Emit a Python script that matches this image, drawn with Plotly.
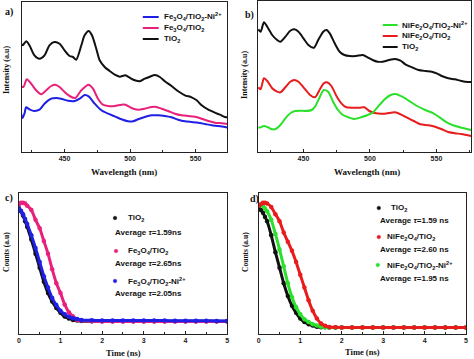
import plotly.graph_objects as go

W, H = 474, 359

# ---------------- Panel a data (wavelength nm, intensity a.u.) ----------------
wl_a_tio2 = [416.8, 418.1, 420.7, 423.2, 427.0, 430.9, 434.7, 438.5, 442.3, 446.2, 450.0, 453.8, 456.4, 458.9,
             462.8, 465.3, 468.4, 470.9, 474.2, 476.8, 480.6, 484.4, 488.3, 492.1, 496.4, 499.7, 503.6, 507.4,
             511.2, 515.1, 518.9, 522.7, 526.5, 531.6, 536.7, 541.8, 546.9, 550.8, 554.6, 559.7, 564.8, 568.6,
             572.4, 575.8]
int_a_tio2 = [108.3, 106.7, 110.7, 106.7, 96.7, 93.3, 96.7, 106.7, 110.0, 108.3, 101.7, 96.0, 95.0, 92.3,
              106.7, 116.7, 121.0, 116.7, 103.3, 91.7, 85.0, 81.0, 77.3, 75.3, 76.7, 74.3, 71.7, 70.7,
              73.3, 75.3, 77.0, 75.0, 70.7, 66.0, 60.7, 56.7, 54.7, 51.7, 46.7, 42.3, 39.3, 37.3,
              35.0, 34.3]

wl_a_fe = [416.8, 418.6, 421.2, 424.5, 428.3, 432.1, 436.0, 439.8, 442.9, 446.2, 450.0, 453.8, 458.2, 462.8,
           468.4, 471.7, 475.5, 479.3, 483.2, 488.3, 493.4, 496.4, 501.0, 506.1, 511.2, 516.3, 519.4, 524.0,
           529.1, 534.2, 539.3, 544.4, 549.5, 554.6, 559.7, 564.8, 569.9, 575.8]
int_a_fe = [66.0, 65.0, 72.7, 68.3, 61.7, 57.7, 61.7, 66.0, 67.3, 65.0, 60.0, 56.0, 54.0, 61.7,
            67.3, 63.3, 53.3, 47.3, 46.0, 46.0, 47.3, 47.3, 44.0, 42.3, 43.3, 45.0, 45.3, 43.3,
            41.0, 38.3, 36.7, 36.0, 35.3, 33.3, 31.0, 29.3, 28.7, 27.7]

wl_a_feni = [416.8, 417.9, 419.4, 420.7, 423.2, 427.0, 430.9, 434.7, 439.8, 443.6, 447.4, 452.6, 457.7, 461.5,
             465.3, 468.4, 473.0, 478.1, 483.2, 488.3, 493.4, 498.5, 502.3, 506.1, 511.2, 516.3, 521.4, 526.5,
             531.6, 536.7, 541.8, 546.9, 552.0, 557.1, 562.2, 567.3, 572.4, 575.8]
int_a_feni = [38.3, 34.0, 38.3, 44.7, 42.7, 41.0, 42.3, 48.3, 53.3, 54.0, 53.3, 51.3, 51.0, 53.3,
              57.0, 55.7, 48.3, 41.7, 38.3, 35.7, 32.7, 30.7, 30.7, 32.7, 35.0, 36.7, 36.7, 36.0,
              34.7, 32.3, 30.7, 30.0, 29.3, 28.0, 26.7, 26.0, 25.0, 24.0]

# ---------------- Panel b data ----------------
wl_b_tio2 = [416.1, 417.8, 420.3, 422.8, 426.5, 430.2, 432.7, 436.4, 440.1, 443.1, 446.3, 450.0, 453.7, 457.9,
             461.1, 464.9, 467.3, 469.8, 473.5, 477.2, 480.9, 484.7, 489.6, 494.6, 498.3, 502.0, 505.7, 509.4,
             514.4, 518.8, 523.0, 526.7, 531.7, 536.6, 541.6, 546.5, 550.2, 554.0, 558.9, 563.9, 568.8, 573.8,
             576.2]
int_b_tio2 = [122.7, 120.3, 129.7, 125.3, 117.0, 112.0, 110.3, 115.3, 121.3, 122.7, 120.3, 113.7, 107.0, 104.3,
              112.0, 120.3, 122.0, 118.7, 108.7, 100.3, 97.0, 96.0, 96.0, 97.0, 94.7, 92.0, 90.3, 90.3,
              92.0, 93.0, 91.3, 87.7, 84.7, 82.0, 81.0, 80.3, 78.7, 76.0, 73.7, 72.7, 71.0, 70.0,
              70.0]

wl_b_ni = [416.1, 417.8, 420.3, 422.8, 426.5, 430.2, 432.7, 436.4, 440.1, 443.1, 446.3, 450.0, 455.0, 458.7,
           462.4, 465.3, 467.8, 471.0, 474.8, 478.5, 482.2, 487.1, 492.1, 495.8, 499.5, 504.5, 509.4, 514.4,
           518.8, 523.0, 528.0, 532.9, 537.9, 544.1, 549.0, 554.0, 558.9, 563.9, 568.8, 576.2]
int_b_ni = [64.7, 62.7, 73.7, 71.0, 63.7, 60.3, 59.7, 64.7, 70.3, 72.0, 70.3, 64.7, 57.0, 54.7,
            62.7, 68.7, 69.7, 66.0, 56.0, 48.7, 44.7, 44.3, 44.3, 44.7, 41.0, 38.7, 38.3, 39.0,
            39.7, 37.7, 34.3, 31.0, 27.7, 26.7, 25.3, 22.7, 20.0, 18.7, 18.0, 16.0]

wl_b_nini = [416.1, 417.8, 420.3, 423.3, 426.5, 429.0, 432.7, 436.4, 440.1, 443.8, 447.5, 451.2, 456.2, 458.7,
             462.4, 465.3, 468.6, 472.3, 476.0, 479.7, 484.7, 488.4, 493.3, 498.3, 502.0, 505.7, 510.6, 515.6,
             519.3, 524.3, 529.2, 535.4, 541.6, 547.8, 552.7, 557.7, 562.6, 568.8, 576.2]
int_b_nini = [24.3, 24.7, 26.0, 24.7, 22.7, 23.0, 27.0, 33.7, 38.7, 41.0, 41.3, 41.0, 42.0, 45.3,
              55.3, 62.0, 60.3, 50.3, 42.0, 37.0, 34.3, 33.0, 34.7, 37.0, 39.3, 44.7, 52.0, 57.0,
              58.0, 55.3, 51.3, 46.0, 42.0, 38.7, 34.3, 29.7, 26.7, 24.3, 22.0]

# ---------------- Panel c data (time ns, normalized counts) ----------------
t_c = [0, 0.05, 0.1, 0.15, 0.2, 0.3, 0.4, 0.5, 0.6, 0.7, 0.8, 0.9, 1.0, 1.1, 1.2, 1.3, 1.4, 1.5,
       1.75, 2.0, 2.25, 2.5, 2.75, 3.0, 3.25, 3.5, 3.75, 4.0, 4.25, 4.5, 4.75, 5.0]
c_tio2 = [0.89, 0.87, 0.84, 0.80, 0.76, 0.67, 0.57, 0.47, 0.37, 0.29, 0.23, 0.185, 0.15, 0.125, 0.11, 0.10,
          0.095, 0.092, 0.09, 0.09, 0.09, 0.09, 0.09, 0.09, 0.09, 0.09, 0.09, 0.09, 0.09, 0.09, 0.09, 0.09]
c_fe = [0.915, 0.93, 0.93, 0.925, 0.91, 0.88, 0.81, 0.75, 0.66, 0.57, 0.46, 0.36, 0.29, 0.21, 0.155, 0.125,
        0.10, 0.095, 0.09, 0.088, 0.088, 0.088, 0.088, 0.088, 0.088, 0.088, 0.088, 0.088, 0.088, 0.088, 0.088, 0.088]
c_feni = [0.89, 0.875, 0.85, 0.815, 0.78, 0.70, 0.61, 0.51, 0.41, 0.33, 0.255, 0.205, 0.165, 0.14, 0.122, 0.112,
          0.106, 0.10, 0.097, 0.096, 0.096, 0.095, 0.095, 0.095, 0.095, 0.095, 0.094, 0.094, 0.094, 0.094, 0.093, 0.093]

# ---------------- Panel d data ----------------
t_d = [0, 0.05, 0.1, 0.15, 0.2, 0.3, 0.4, 0.5, 0.6, 0.7, 0.8, 0.9, 1.0, 1.1, 1.2, 1.3, 1.4, 1.5, 1.6, 1.7,
       1.85, 2.0, 2.25, 2.5, 2.75, 3.0, 3.25, 3.5, 3.75, 4.0, 4.25, 4.5, 4.75, 5.0]
d_tio2 = [0.90, 0.88, 0.86, 0.83, 0.80, 0.70, 0.58, 0.47, 0.36, 0.27, 0.20, 0.15, 0.11, 0.085, 0.07, 0.06,
          0.052, 0.048, 0.047, 0.046, 0.046, 0.046, 0.046, 0.046, 0.046, 0.046, 0.046, 0.046, 0.046, 0.046,
          0.046, 0.046, 0.046, 0.046]
d_nini = [0.91, 0.915, 0.91, 0.89, 0.87, 0.81, 0.71, 0.60, 0.48, 0.36, 0.26, 0.19, 0.14, 0.105, 0.085, 0.07,
          0.06, 0.052, 0.048, 0.046, 0.046, 0.046, 0.046, 0.046, 0.046, 0.046, 0.046, 0.046, 0.046, 0.046,
          0.046, 0.046, 0.046, 0.046]
d_ni = [0.91, 0.92, 0.93, 0.93, 0.925, 0.90, 0.85, 0.80, 0.72, 0.655, 0.59, 0.51, 0.42, 0.33, 0.24, 0.165,
        0.11, 0.075, 0.058, 0.05, 0.047, 0.046, 0.046, 0.046, 0.046, 0.046, 0.046, 0.046, 0.046, 0.046,
        0.046, 0.046, 0.046, 0.046]

BLACK, PINK, BLUE = "#111111", "#e8207c", "#1f1fe6"
GREEN, RED = "#2be02b", "#e81c1c"

fig = go.Figure()

def spec(x, y, color, xa, ya):
    fig.add_trace(go.Scatter(x=x, y=y, mode="lines", xaxis=xa, yaxis=ya, showlegend=False,
                             line=dict(color=color, width=2, shape="spline", smoothing=0.7)))

def decay(x, y, color, xa, ya):
    fig.add_trace(go.Scatter(x=x, y=y, mode="lines+markers", xaxis=xa, yaxis=ya, showlegend=False,
                             line=dict(color=color, width=3, shape="spline", smoothing=0.5),
                             marker=dict(color=color, size=4.5, symbol="circle")))

spec(wl_a_tio2, int_a_tio2, BLACK, "x", "y")
spec(wl_a_fe, int_a_fe, PINK, "x", "y")
spec(wl_a_feni, int_a_feni, BLUE, "x", "y")

spec(wl_b_tio2, int_b_tio2, BLACK, "x2", "y2")
spec(wl_b_ni, int_b_ni, RED, "x2", "y2")
spec(wl_b_nini, int_b_nini, GREEN, "x2", "y2")

decay(t_c, c_tio2, BLACK, "x3", "y3")
decay(t_c, c_fe, PINK, "x3", "y3")
decay(t_c, c_feni, BLUE, "x3", "y3")

decay(t_d, d_tio2, BLACK, "x4", "y4")
decay(t_d, d_nini, GREEN, "x4", "y4")
decay(t_d, d_ni, RED, "x4", "y4")

def px(x):
    return x / W

def py(y):
    return 1 - y / H

tickfont = dict(family="Liberation Sans", size=7, color="#222", weight="bold")

def xax(dom, rng, dtick, tick0, minor_dtick, vals=None):
    d = dict(domain=dom, range=rng, showgrid=False, zeroline=False, showline=True, linecolor="#222",
             linewidth=1, mirror=True, ticks="inside", ticklen=3, tickcolor="#222", tickfont=tickfont,
             dtick=dtick, tick0=tick0, minor=dict(dtick=minor_dtick, ticks="inside", ticklen=2,
                                                  tickcolor="#222"), fixedrange=True)
    return d

def yax(dom, rng):
    return dict(domain=dom, range=rng, showgrid=False, zeroline=False, showline=True, linecolor="#222",
                linewidth=1, mirror=True, ticks="", showticklabels=False, fixedrange=True)

fig.update_layout(
    width=W, height=H, margin=dict(l=0, r=0, t=0, b=0), autosize=False,
    paper_bgcolor="white", plot_bgcolor="white",
    xaxis=xax([px(20), px(227)], [417.4, 574], 50, 450, 25),
    yaxis=yax([py(152), py(2)], [0, 150]),
    xaxis2=xax([px(258), px(473)], [415.7, 576], 50, 450, 25),
    yaxis2=yax([py(152), py(1)], [0, 151]),
    xaxis3=xax([px(17), px(227)], [0, 5], 1, 0, 0.5),
    yaxis3=yax([py(334), py(193)], [0, 1]),
    xaxis4=xax([px(259), px(468)], [0, 5], 1, 0, 0.5),
    yaxis4=yax([py(334), py(193)], [0, 1]),
)
fig.update_layout(xaxis2=dict(anchor="y2"), yaxis2=dict(anchor="x2"),
                  xaxis3=dict(anchor="y3"), yaxis3=dict(anchor="x3"),
                  xaxis4=dict(anchor="y4"), yaxis4=dict(anchor="x4"))

ann = []
shapes = []
SERIF = "Liberation Serif"
SANS = "Liberation Sans"

def text(x, y, s, size=8, family=SANS, color="#111", xanchor="left", angle=0, bold=True):
    ann.append(dict(x=px(x), y=py(y), xref="paper", yref="paper", text=s, showarrow=False,
                    xanchor=xanchor, yanchor="middle", textangle=angle,
                    font=dict(family=family, size=size, color=color, weight="bold" if bold else "normal")))

# panel labels
text(7, 12, "a)", 10, SERIF, xanchor="center")
text(250, 15, "b)", 10, SERIF, xanchor="center")
text(7, 198, "c)", 10, SERIF, xanchor="center")
text(255, 199, "d)", 10, SERIF, xanchor="center")

# axis titles
text(123, 172, "Wavelength (nm)", 9, SERIF, xanchor="center")
text(368, 172, "Wavelength (nm)", 9, SERIF, xanchor="center")
text(5, 70, "Intensity (a.u)", 8, SERIF, xanchor="center", angle=-90)
text(245, 75, "Intensity (a.u)", 8, SERIF, xanchor="center", angle=-90)
text(123, 353, "Time (ns)", 8.5, SERIF, xanchor="center")
text(364, 352, "Time (ns)", 8.5, SERIF, xanchor="center")
text(5, 252, "Counts (a.u)", 7.5, SERIF, xanchor="center", angle=-90)
text(246, 252, "Counts (a.u)", 7.5, SERIF, xanchor="center", angle=-90)

def legline(x0, x1, y, color):
    shapes.append(dict(type="line", xref="paper", yref="paper", x0=px(x0), x1=px(x1), y0=py(y), y1=py(y),
                       line=dict(color=color, width=2)))

# legend a
legline(142, 158, 17, BLUE)
legline(142, 158, 28, PINK)
legline(142, 158, 39, BLACK)
text(161, 17, "Fe<sub>3</sub>O<sub>4</sub>/TiO<sub>2</sub>-Ni<sup>2+</sup>", 8)
text(161, 28, "Fe<sub>3</sub>O<sub>4</sub>/TiO<sub>2</sub>", 8)
text(161, 39, "TiO<sub>2</sub>", 8)

# legend b
legline(384, 399, 25, GREEN)
legline(384, 399, 36, RED)
legline(384, 399, 47, BLACK)
text(401, 25, "NiFe<sub>2</sub>O<sub>4</sub>/TiO<sub>2</sub>-Ni<sup>2+</sup>", 8)
text(401, 36, "NiFe<sub>2</sub>O<sub>4</sub>/TiO<sub>2</sub>", 8)
text(401, 47, "TiO<sub>2</sub>", 8)

def dot(x, y, color):
    shapes.append(dict(type="circle", xref="paper", yref="paper", x0=px(x - 1.8), x1=px(x + 1.8),
                       y0=py(y + 1.8), y1=py(y - 1.8), fillcolor=color, line=dict(color=color, width=0.5)))

# panel c labels
dot(114, 218, BLACK)
text(125, 218, "TiO<sub>2</sub>", 8)
text(112, 232, "Average <i>τ</i>=1.59ns", 8)
dot(115, 251, PINK)
text(125, 251, "Fe<sub>3</sub>O<sub>4</sub>/TiO<sub>2</sub>", 8)
text(112, 263, "Average <i>τ</i>=2.65ns", 8)
dot(114, 281, BLUE)
text(125, 281, "Fe<sub>3</sub>O<sub>4</sub>/TiO<sub>2</sub>-Ni<sup>2+</sup>", 8)
text(112, 293, "Average <i>τ</i>=2.05ns", 8)

# panel d labels
dot(380, 208, BLACK)
text(390, 208, "TiO<sub>2</sub>", 8)
text(379, 220, "Average <i>τ</i>=1.59 ns", 8)
dot(380, 237, RED)
text(386, 237, "NiFe<sub>2</sub>O<sub>4</sub>/TiO<sub>2</sub>", 8)
text(379, 249, "Average <i>τ</i>=2.60 ns", 8)
dot(379, 265, GREEN)
text(386, 265, "NiFe<sub>2</sub>O<sub>4</sub>/TiO<sub>2</sub>-Ni<sup>2+</sup>", 8)
text(379, 278, "Average <i>τ</i>=1.95 ns", 8)

fig.update_layout(annotations=ann, shapes=shapes)

fig.write_html("out.html")
